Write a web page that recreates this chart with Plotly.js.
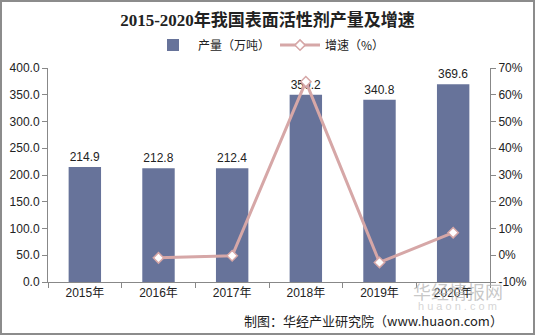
<!DOCTYPE html>
<html>
<head>
<meta charset="utf-8">
<script src="https://cdn.plot.ly/plotly-3.0.1.min.js"></script>
<style>
html,body{margin:0;padding:0;background:#fff;}
#wrap{position:relative;width:535px;height:335px;}
#chart{width:535px;height:335px;}
#frame{position:absolute;left:0;top:0;width:535px;height:335px;box-sizing:border-box;border:2px solid #8c8c8c;pointer-events:none;}
</style>
</head>
<body>
<div id="wrap"><div id="chart"></div><div id="frame"></div></div>
<script>
const years = ["2015年","2016年","2017年","2018年","2019年","2020年"];
const output = [214.9, 212.8, 212.4, 350.2, 340.8, 369.6];
const growth = [null, -0.98, -0.19, 64.9, -2.68, 8.45];
const leftTicks = [0,50,100,150,200,250,300,350,400];
const rightTicks = [-10,0,10,20,30,40,50,60,70];

const barTrace = {
  type: "bar", x: years, y: output, name: "产量（万吨）",
  marker: {color: "#67739a"}, width: 0.44,
  text: output.map(v => v.toFixed(1)), textposition: "outside",
  textfont: {family: "Liberation Sans, Arial, sans-serif", size: 12, color: "#222"},
  cliponaxis: false
};
const lineTrace = {
  type: "scatter", mode: "lines+markers", x: years, y: growth, yaxis: "y2",
  name: "增速（%）", connectgaps: false,
  line: {color: "#d6a7a7", width: 3},
  marker: {symbol: "diamond", size: 8, color: "#ffffff", line: {color: "#d6a7a7", width: 1.5}},
  cliponaxis: false
};
const tickFont = {family: "Liberation Sans, Arial, sans-serif", size: 12, color: "#222"};
const layout = {
  width: 535, height: 335,
  margin: {l: 48, r: 45, t: 68, b: 53},
  paper_bgcolor: "#fff", plot_bgcolor: "#fff",
  title: {text: "<b>2015-2020年我国表面活性剂产量及增速</b>", x: 0.5, xanchor: "center", y: 0.94, yanchor: "middle",
          font: {family: "Liberation Serif, Noto Sans CJK SC, serif", size: 17, color: "#222"}},
  showlegend: true,
  legend: {orientation: "h", x: 0.5, xanchor: "center", y: 1.107, yanchor: "middle",
           font: {family: "Noto Sans CJK SC, sans-serif", size: 12, color: "#222"},
           itemwidth: 40, tracegroupgap: 10},
  bargap: 0.56,
  xaxis: {type: "category", showgrid: false, showline: true, linecolor: "#888", linewidth: 1,
          ticks: "outside", tickson: "boundaries", ticklen: 5, tickcolor: "#888",
          tickfont: {family: "Liberation Sans, Noto Sans CJK SC, sans-serif", size: 12, color: "#222"}},
  yaxis: {range: [0, 400], tickvals: leftTicks, ticktext: leftTicks.map(v => v.toFixed(1)),
          showgrid: false, zeroline: false, showline: true, linecolor: "#888", linewidth: 1,
          ticks: "outside", ticklen: 5, tickcolor: "#888", tickfont: tickFont},
  yaxis2: {range: [-10, 70], tickvals: rightTicks, ticktext: rightTicks.map(v => v + "%"),
           overlaying: "y", side: "right", showgrid: false, zeroline: false, showline: true,
           linecolor: "#888", linewidth: 1, ticks: "outside", ticklen: 5, tickcolor: "#888", tickfont: tickFont},
  annotations: [
    {text: "华经情报网", xref: "paper", yref: "paper", x: 1.034, y: -0.04, xanchor: "right", yanchor: "middle",
     showarrow: false, font: {family: "Noto Sans CJK SC, sans-serif", size: 18, color: "rgba(175,175,175,0.7)"}},
    {text: "h u a o n . c o m", xref: "paper", yref: "paper", x: 1.02, y: -0.11, xanchor: "right", yanchor: "middle",
     showarrow: false, font: {family: "Liberation Sans, sans-serif", size: 11, color: "rgba(195,195,195,0.7)"}},
    {text: "制图：华经产业研究院（www.huaon.com）", xref: "paper", yref: "paper", x: 1.034, y: -0.178, xanchor: "right", yanchor: "middle",
     showarrow: false, font: {family: "Noto Sans CJK SC, sans-serif", size: 13, color: "#222"}}
  ]
};
Plotly.newPlot("chart", [barTrace, lineTrace], layout, {displayModeBar: false, staticPlot: true});
</script>
</body>
</html>
